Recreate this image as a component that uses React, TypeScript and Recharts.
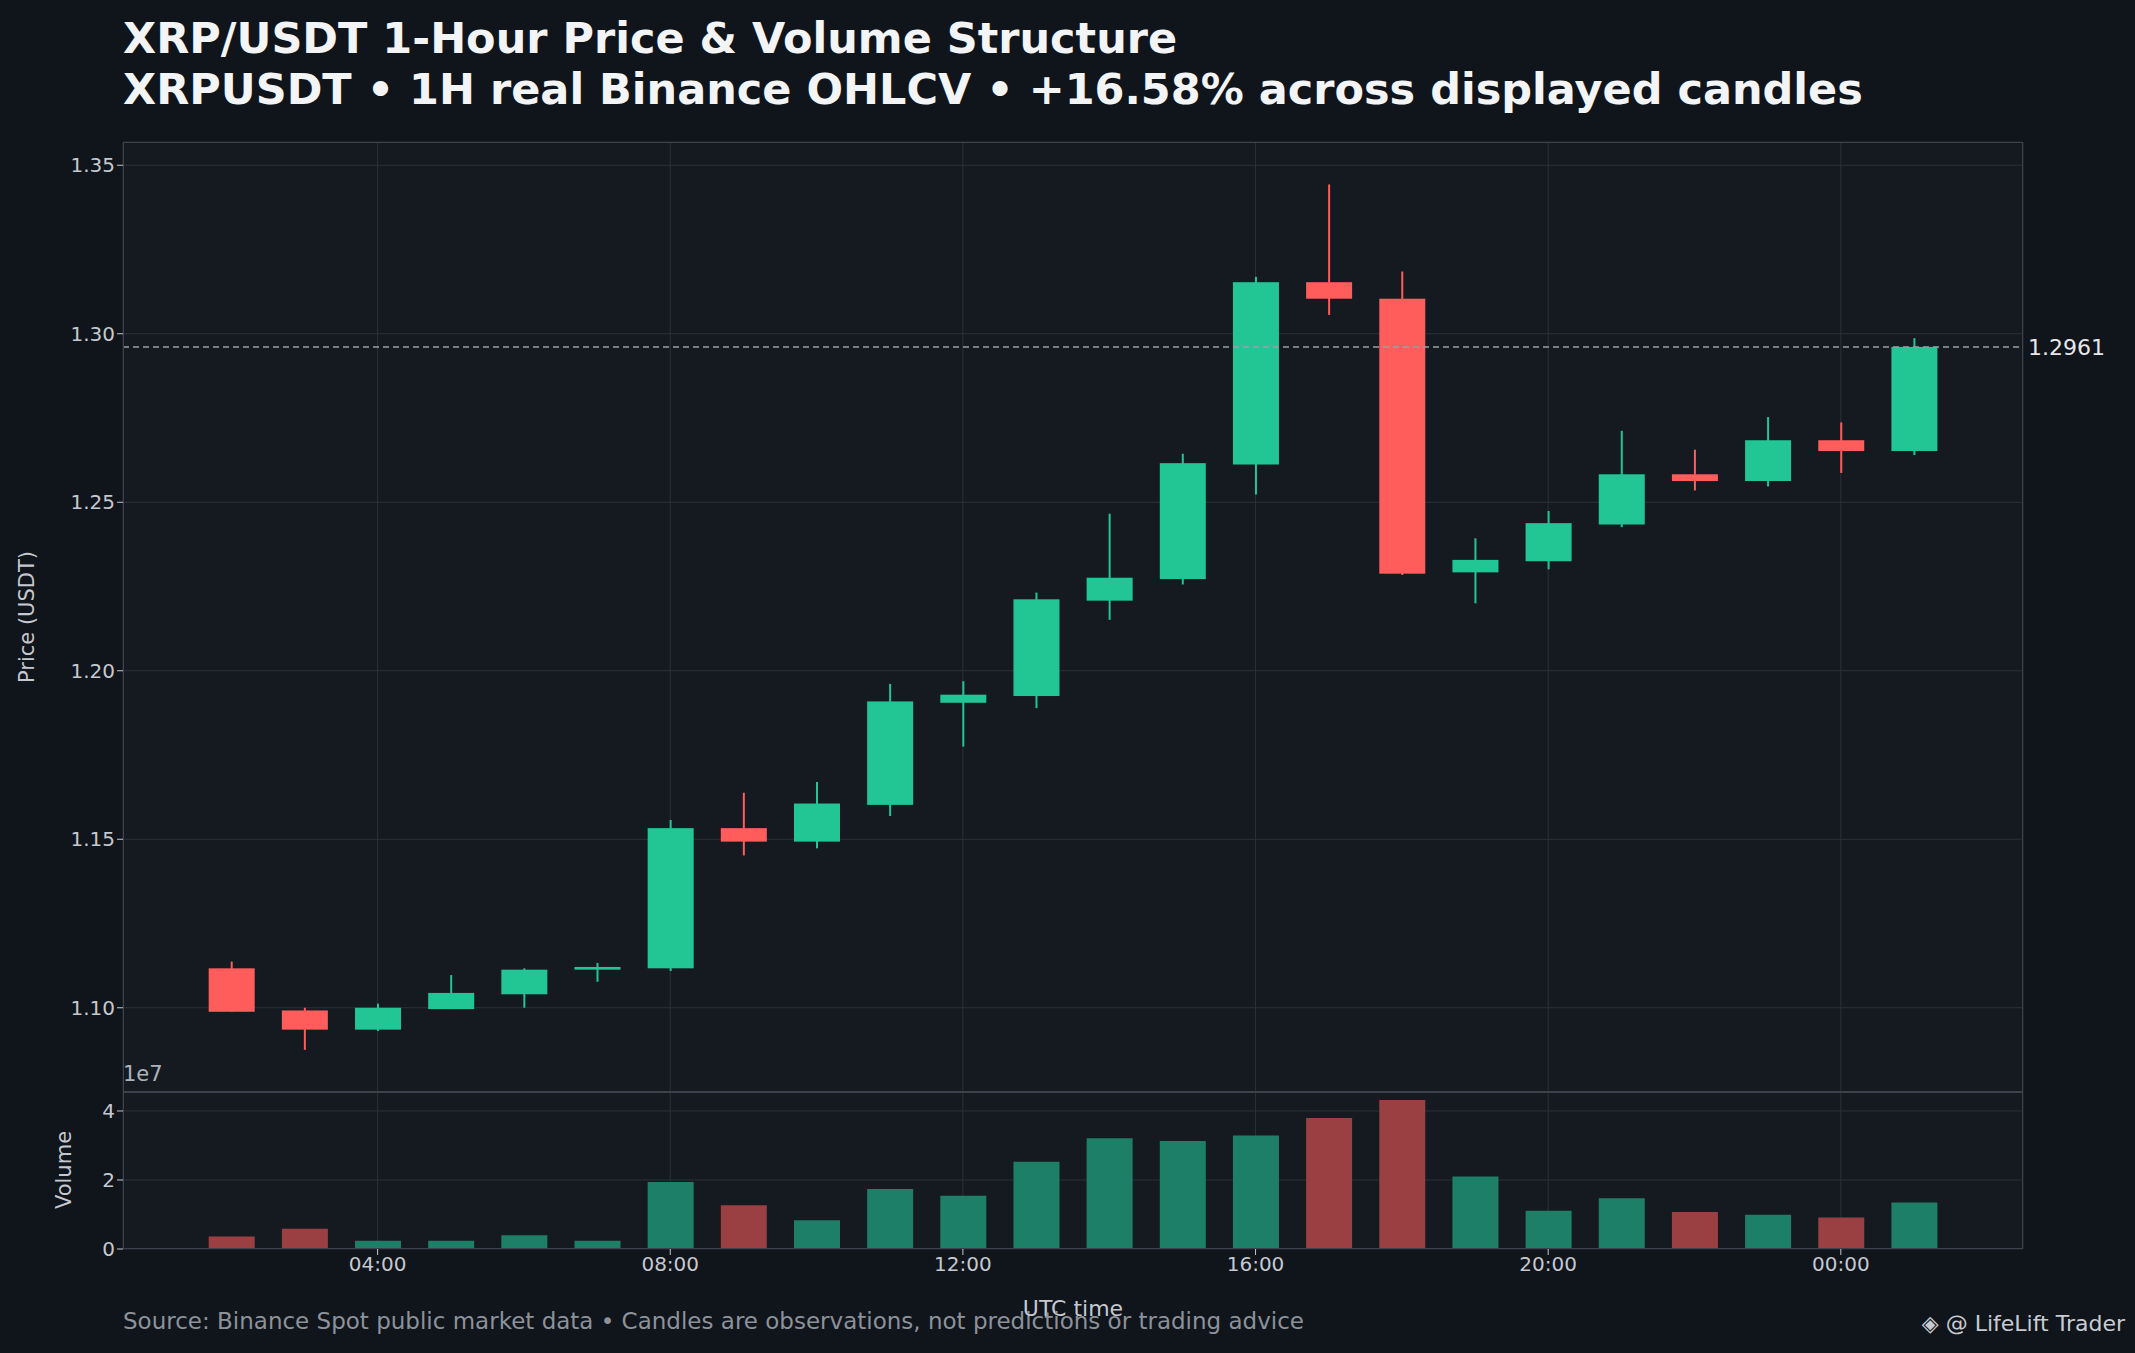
import React from "react";
import {
  ComposedChart,
  BarChart,
  Bar,
  XAxis,
  YAxis,
  CartesianGrid,
  ReferenceLine,
  Cell,
} from "recharts";

const HOURS = [2, 3, 4, 5, 6, 7, 8, 9, 10, 11, 12, 13, 14, 15, 16, 17, 18, 19, 20, 21, 22, 23, 24, 25];
const OPEN = [1.1117, 1.0992, 1.0935, 1.0996, 1.104, 1.1113, 1.1117, 1.1533, 1.1493, 1.1602, 1.1905, 1.1925, 1.2208, 1.2272, 1.2612, 1.3153, 1.3104, 1.2292, 1.2325, 1.2434, 1.2583, 1.2563, 1.2684, 1.2652];
const CLOSE = [1.0988, 1.0935, 1.1, 1.1044, 1.1113, 1.1121, 1.1533, 1.1493, 1.1606, 1.1909, 1.1929, 1.2212, 1.2276, 1.2616, 1.3153, 1.3104, 1.2288, 1.2329, 1.2438, 1.2583, 1.2563, 1.2684, 1.2652, 1.2961];
const HIGH = [1.1137, 1.1, 1.1012, 1.1097, 1.1117, 1.1133, 1.1557, 1.1638, 1.167, 1.1961, 1.1969, 1.2232, 1.2466, 1.2644, 1.3169, 1.3443, 1.3185, 1.2393, 1.2474, 1.2712, 1.2656, 1.2753, 1.2737, 1.2987];
const LOW = [1.0988, 1.0875, 1.0931, 1.0996, 1.1, 1.1077, 1.1109, 1.1452, 1.1473, 1.1569, 1.1775, 1.1889, 1.2151, 1.2256, 1.2523, 1.3056, 1.2284, 1.22, 1.2301, 1.2426, 1.2535, 1.2547, 1.2587, 1.264];
const VOLUME = [0.36e7, 0.59e7, 0.24e7, 0.24e7, 0.4e7, 0.24e7, 1.94e7, 1.27e7, 0.83e7, 1.74e7, 1.54e7, 2.53e7, 3.21e7, 3.13e7, 3.29e7, 3.8e7, 4.32e7, 2.1e7, 1.11e7, 1.47e7, 1.07e7, 0.99e7, 0.91e7, 1.35e7];
const PRICE_TICKS = [1.1, 1.15, 1.2, 1.25, 1.3, 1.35];
const HOUR_TICKS = [4, 8, 12, 16, 20, 24];
const VOL_TICKS = [0, 2e7, 4e7];
const LAST_PRICE = 1.2961;

const data = HOURS.map((h, i) => ({
  hour: h,
  open: OPEN[i],
  close: CLOSE[i],
  high: HIGH[i],
  low: LOW[i],
  volume: VOLUME[i],
  up: CLOSE[i] >= OPEN[i],
}));

const UP = "#22c695";
const DOWN = "#ff5c5c";
const UP_VOL = "#1e7f68";
const DOWN_VOL = "#9a4042";
const BG = "#10141b";
const PLOT_BG = "#151a21";
const GRID = "#2b313a";
const TICK = "#c5c9cf";
const FONT = "DejaVu Sans, sans-serif";

const X_DOMAIN = [0.52, 26.49];
const W = 2135;
const PLOT_L = 123;
const PLOT_R = 2023;

function Candle(props: any) {
  const { x, y, width, height, payload } = props;
  const top = Math.min(y, y + height);
  const h = Math.abs(height);
  const range = payload.high - payload.low || 1e-9;
  const bodyTopVal = Math.max(payload.open, payload.close);
  const bodyBotVal = Math.min(payload.open, payload.close);
  const by = top + ((payload.high - bodyTopVal) / range) * h;
  const bh = Math.max(2, ((bodyTopVal - bodyBotVal) / range) * h);
  const color = payload.up ? UP : DOWN;
  const cx = x + width / 2;
  return (
    <g>
      <line x1={cx} x2={cx} y1={top} y2={top + h} stroke={color} strokeWidth={2} />
      <rect x={x} y={by} width={width} height={bh} fill={color} />
    </g>
  );
}

const tick = { fill: TICK, fontSize: 20, fontFamily: FONT };
const fmtHour = (v: number) => `${String(v % 24).padStart(2, "0")}:00`;

export default function App() {
  return (
    <div style={{ position: "fixed", left: 0, top: 0, width: W, height: 1353, background: BG, fontFamily: FONT }}>
      <div style={{ position: "absolute", left: PLOT_L, top: 13, color: "#f2f4f6", fontSize: 43, fontWeight: "bold", lineHeight: "51px" }}>
        <div>XRP/USDT 1-Hour Price &amp; Volume Structure</div>
        <div>XRPUSDT • 1H real Binance OHLCV • +16.58% across displayed candles</div>
      </div>

      <div style={{ position: "absolute", left: 0, top: 0 }}>
        <ComposedChart width={W} height={1092} data={data} margin={{ top: 142, right: W - PLOT_R, bottom: 0, left: 53 }}>
          <CartesianGrid stroke={GRID} fill={PLOT_BG} />
          <XAxis dataKey="hour" type="number" domain={X_DOMAIN} ticks={HOUR_TICKS} hide allowDataOverflow />
          <YAxis
            type="number"
            domain={[1.075, 1.3569]}
            ticks={PRICE_TICKS}
            width={70}
            tick={tick}
            tickFormatter={(v: number) => v.toFixed(2)}
            axisLine={false}
            tickLine={{ stroke: TICK }}
            allowDataOverflow
          />
          <ReferenceLine
            y={LAST_PRICE}
            stroke="#9aa0a8"
            strokeDasharray="6 4"
            strokeWidth={1.5}
            label={{ value: LAST_PRICE.toFixed(4), position: "right", fill: "#e6e8eb", fontSize: 22, fontFamily: FONT }}
          />
          <Bar dataKey={(d: any) => [d.low, d.high]} barSize={46} shape={Candle} isAnimationActive={false} />
        </ComposedChart>
      </div>

      <div style={{ position: "absolute", left: 0, top: 1092 }}>
        <BarChart width={W} height={261} data={data} margin={{ top: 0, right: W - PLOT_R, bottom: 74, left: 53 }}>
          <CartesianGrid stroke={GRID} fill={PLOT_BG} />
          <XAxis
            dataKey="hour"
            type="number"
            domain={X_DOMAIN}
            ticks={HOUR_TICKS}
            tickFormatter={fmtHour}
            tick={tick}
            height={30}
            axisLine={false}
            tickLine={{ stroke: TICK }}
            allowDataOverflow
          />
          <YAxis
            type="number"
            domain={[0, 4.55e7]}
            ticks={VOL_TICKS}
            width={70}
            tick={tick}
            tickFormatter={(v: number) => String(v / 1e7)}
            axisLine={false}
            tickLine={{ stroke: TICK }}
            allowDataOverflow
          />
          <Bar dataKey="volume" barSize={46} isAnimationActive={false}>
            {data.map((d) => (
              <Cell key={d.hour} fill={d.up ? UP_VOL : DOWN_VOL} />
            ))}
          </Bar>
        </BarChart>
      </div>

      {/* panel borders */}
      <div style={{ position: "absolute", left: PLOT_L, top: 142, width: PLOT_R - PLOT_L, height: 950, border: "1.5px solid #3b424c", boxSizing: "border-box", pointerEvents: "none" }} />
      <div style={{ position: "absolute", left: PLOT_L, top: 1092, width: PLOT_R - PLOT_L, height: 157, border: "1.5px solid #3b424c", boxSizing: "border-box", pointerEvents: "none" }} />

      <div style={{ position: "absolute", left: PLOT_L, top: 1062, color: "#aeb3ba", fontSize: 21 }}>1e7</div>
      <div style={{ position: "absolute", left: 27, top: 617, transform: "translate(-50%,-50%) rotate(-90deg)", color: TICK, fontSize: 21, whiteSpace: "nowrap" }}>Price (USDT)</div>
      <div style={{ position: "absolute", left: 64, top: 1170, transform: "translate(-50%,-50%) rotate(-90deg)", color: TICK, fontSize: 21, whiteSpace: "nowrap" }}>Volume</div>
      <div style={{ position: "absolute", left: 1073, top: 1308, transform: "translate(-50%,-50%)", color: TICK, fontSize: 22 }}>UTC time</div>
      <div style={{ position: "absolute", left: PLOT_L, top: 1308, color: "#8c929a", fontSize: 23 }}>
        Source: Binance Spot public market data • Candles are observations, not predictions or trading advice
      </div>
      <div style={{ position: "absolute", right: 10, top: 1311, color: "#c8ccd2", fontSize: 22 }}>◈ @ LifeLift Trader</div>
    </div>
  );
}
